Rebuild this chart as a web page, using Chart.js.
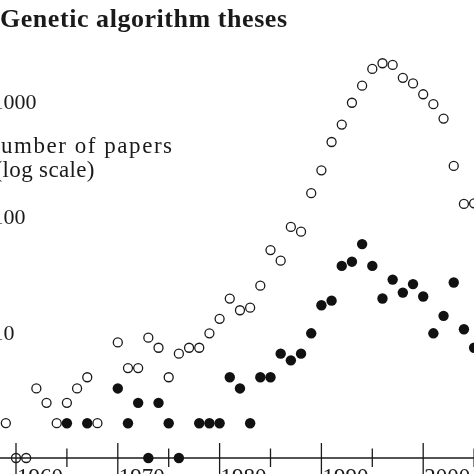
<!DOCTYPE html>
<html>
<head>
<meta charset="utf-8">
<style>
  html, body { margin: 0; padding: 0; background: #ffffff; overflow: hidden; width: 474px; height: 474px; }
  #c { display: block; }
</style>
<script src="https://cdn.jsdelivr.net/npm/chart.js@4.4.1/dist/chart.umd.min.js"></script>
</head>
<body>
<canvas id="c" width="490" height="474" style="width:490px;height:474px"></canvas>
<script>
// ---- data ----
const years = [1959,1960,1961,1962,1963,1964,1965,1966,1967,1968,1969,
  1970,1971,1972,1973,1974,1975,1976,1977,1978,1979,
  1980,1981,1982,1983,1984,1985,1986,1987,1988,1989,
  1990,1991,1992,1993,1994,1995,1996,1997,1998,1999,
  2000,2001,2002,2003,2004,2005];
// open circles
const allPapers = [2,1,1,4,3,2,3,4,5,2,null,
  10,6,6,11,9,5,8,9,9,12,
  16,24,19,20,31,63,51,100,91,196,
  309,543,769,1187,1669,2332,2608,2523,1953,1745,
  1406,1155,866,337,158,160];
// filled circles
const theses = [null,null,null,null,null,null,2,null,2,null,null,
  4,2,3,1,3,2,1,null,2,2,
  2,5,4,2,5,5,8,7,8,12,
  21,23,46,50,71,46,24,35,27,32,
  25,12,17,33,13,9];
const yTickValues = [10, 100, 1000];
const yTickLabels = ['10', '100', '1000'];
const xTickYears = [1955,1960,1965,1970,1975,1980,1985,1990,1995,2000,2005];
const xLabelYears = [1960,1970,1980,1990,2000];
const xLabels = ['1960','1970','1980','1990','2000'];
const titleText = 'Genetic algorithm theses';
const yTitleLines = ['number of papers', '(log scale)'];

const SERIF = '"Liberation Serif", "Times New Roman", serif';
const INK = '#1a1a1a';

function pts(vals) {
  return years.map((yr, i) => ({ x: yr, y: vals[i] })).filter(p => p.y !== null);
}

function fitText(ctx, text, x, yb, width, font) {
  ctx.font = font;
  ctx.letterSpacing = '0px';
  const w = ctx.measureText(text).width;
  const ls = (width - w) / Math.max(1, text.length - 1);
  ctx.letterSpacing = ls.toFixed(2) + 'px';
  ctx.fillText(text, x, yb);
  ctx.letterSpacing = '0px';
}

const decor = {
  id: 'decor',
  beforeDatasetsDraw(chart) {
    const { ctx, scales: { x, y } } = chart;
    const y0 = y.getPixelForValue(1);
    ctx.save();
    ctx.strokeStyle = INK;
    ctx.lineWidth = 1.3;
    ctx.beginPath();
    ctx.moveTo(0, y0);
    ctx.lineTo(chart.width, y0);
    ctx.stroke();
    xTickYears.forEach(yr => {
      const px = x.getPixelForValue(yr);
      const major = yr % 10 === 0;
      ctx.beginPath();
      ctx.moveTo(px, y0 - (major ? 15 : 9.5));
      ctx.lineTo(px, y0 + (major ? 22 : 9));
      ctx.stroke();
    });
    ctx.fillStyle = INK;
    ctx.textAlign = 'left';
    ctx.textBaseline = 'alphabetic';
    ctx.font = '23px ' + SERIF;
    xLabelYears.forEach((yr, i) => {
      const px = x.getPixelForValue(yr);
      ctx.fillText(xLabels[i], px + 1, y0 + 26);
    });
    ctx.restore();
  },
  afterDraw(chart) {
    const { ctx } = chart;
    ctx.save();
    ctx.fillStyle = INK;
    ctx.textAlign = 'left';
    ctx.textBaseline = 'alphabetic';
    fitText(ctx, titleText, 0, 26.5, 287, 'bold 26px ' + SERIF);
    fitText(ctx, yTitleLines[0], -12, 152.7, 184, '23px ' + SERIF);
    fitText(ctx, yTitleLines[1], -5.5, 176.7, 100, '23px ' + SERIF);
    ctx.restore();
  }
};

const PX_PER_YEAR = 10.18;
const X_MIN = 1960 - 16 / PX_PER_YEAR;
const X_MAX = X_MIN + 490 / PX_PER_YEAR;
const Y_MAX = Math.pow(10, 458 / 117);

new Chart(document.getElementById('c'), {
  type: 'scatter',
  data: {
    datasets: [
      {
        label: 'theses',
        data: pts(theses),
        pointRadius: 5.2,
        pointHoverRadius: 5.2,
        pointBackgroundColor: '#111111',
        pointBorderWidth: 0,
        borderWidth: 0,
        showLine: false,
        clip: false
      },
      {
        label: 'all papers',
        data: pts(allPapers),
        pointRadius: 4.5,
        pointHoverRadius: 4.5,
        pointBackgroundColor: 'rgba(255,255,255,0)',
        pointBorderColor: INK,
        pointBorderWidth: 1.3,
        showLine: false,
        clip: false
      }
    ]
  },
  options: {
    responsive: false,
    devicePixelRatio: 1,
    animation: false,
    events: [],
    layout: { autoPadding: false, padding: { left: 0, right: 0, top: 0, bottom: 16 } },
    plugins: { legend: { display: false }, tooltip: { enabled: false }, title: { display: false } },
    scales: {
      x: {
        type: 'linear',
        min: X_MIN,
        max: X_MAX,
        bounds: 'data',
        display: false
      },
      y: {
        type: 'logarithmic',
        position: 'left',
        min: 1,
        max: Y_MAX,
        bounds: 'data',
        grid: { display: false, drawTicks: false },
        border: { display: false },
        afterBuildTicks: (s) => { s.ticks = yTickValues.map(v => ({ value: v })); },
        afterFit: (s) => { s.width = 0; },
        ticks: {
          mirror: true,
          padding: -7.5,
          labelOffset: -8.5,
          color: INK,
          font: { family: SERIF, size: 22 },
          callback: (v) => { const i = yTickValues.indexOf(v); return i >= 0 ? yTickLabels[i] : ''; }
        }
      }
    }
  },
  plugins: [decor]
});
</script>
</body>
</html>
